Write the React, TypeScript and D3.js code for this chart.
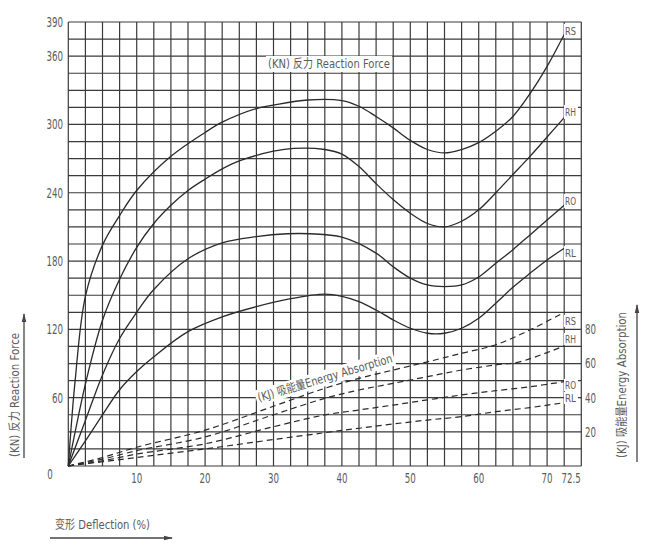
import React from "react";
import * as d3 from "d3";

// Deflection (%) vs Reaction Force (kN)
const forceRS: [number, number][] = [[0,0],[1,75],[2.5,149],[5,194],[7.5,220],[10,242],[15,272],[20,293],[22.5,302],[27.5,314],[30,317],[35,321.5],[40,321],[42.5,316],[45,307],[47.5,297],[50,286],[52.5,278],[55,275],[57.5,278],[60,284],[62.5,294],[65,307],[67.5,327],[70,351],[72.5,379]];
const forceRH: [number, number][] = [[0,0],[1,30],[2.5,72],[5,128],[7.5,164],[10,192],[12.5,213],[15,229],[17.5,242],[20,252],[22.5,261],[25,268],[30,276.5],[33,279],[37.5,278],[40,274],[42.5,263],[45,248],[47.5,234],[50,222],[52.5,213],[55,210],[57.5,215],[60,225],[62.5,240],[65,256],[67.5,272],[70,289],[72.5,306]];
const forceRO: [number, number][] = [[0,0],[2.5,40],[5,80],[7.5,112],[10,135],[12.5,155],[17.5,182],[22.5,196],[27.5,201.5],[32,204],[35.3,204],[40,201],[45,187],[47.5,175],[50,165],[52.5,159],[55,157.6],[57.5,159],[60,166],[62.5,178],[65,190],[67.5,203],[70,216],[72.5,229]];
const forceRL: [number, number][] = [[0,0],[2.5,22],[5,45],[7.5,67],[10,83],[12.5,96],[17.5,118],[22.5,131],[27.5,140],[32.5,147],[37.5,151],[40,149],[42.5,144.4],[45,137],[47.5,128.3],[50,121],[52.5,116.6],[55,116.6],[57.5,121],[60,129.8],[62.5,143],[65,157],[67.5,169.3],[70,181],[72.5,191.3]];

// Deflection (%) vs Energy Absorption (kJ)
const energyRS: [number, number][] = [[0,0],[5,5],[10,11],[20,21],[30,35],[37.5,45.5],[42.5,51.3],[47.5,56.2],[52.5,61],[57.5,66],[62.5,71],[67.5,79.7],[72.5,90]];
const energyRH: [number, number][] = [[0,0],[5,4],[10,9],[20,17],[30,30],[37.5,39.6],[42.5,44.5],[47.5,48.4],[52.5,52.3],[57.5,56.2],[62.5,59.2],[66,61],[72.5,70.3]];
const energyRO: [number, number][] = [[0,0],[5,3],[10,7],[20,13],[30,23],[37.5,29.9],[42.5,32.8],[47.5,35.7],[52.5,38.7],[57.5,41.6],[62.5,44.1],[67.5,46.4],[72.5,49.4]];
const energyRL: [number, number][] = [[0,0],[5,2.5],[10,5],[20,10],[30,15.5],[37.5,19.5],[42.5,22.1],[47.5,24.6],[52.5,26.9],[57.5,28.9],[62.5,31.8],[67.5,34.2],[72.5,37.1]];

const seriesNames = ["RS", "RH", "RO", "RL"];
const xTicks = [10, 20, 30, 40, 50, 60, 70, 72.5];
const leftTicks = [60, 120, 180, 240, 300, 360, 390];
const rightTicks = [20, 40, 60, 80];

const FONT = "'DejaVu Sans', 'Noto Sans CJK SC', sans-serif";
const TXT = "#5c5c5c";

type TProps = {
  x: number; y: number; size: number; sx?: number; rot?: number;
  anchor?: "start" | "middle" | "end"; children: React.ReactNode; len?: number;
};
function T({ x, y, size, sx = 1, rot = 0, anchor = "start", children, len }: TProps) {
  return (
    <text
      transform={`translate(${x},${y}) rotate(${rot}) scale(${sx},1)`}
      textAnchor={anchor}
      dominantBaseline="central"
      fontSize={size}
      fill={TXT}
      textLength={len}
      lengthAdjust={len ? "spacingAndGlyphs" : undefined}
    >
      {children}
    </text>
  );
}

export default function App() {
  const x = d3.scaleLinear().domain([0, 75]).range([68.3, 581.3]);
  const yF = d3.scaleLinear().domain([0, 390]).range([466, 22]);
  const yE = d3.scaleLinear().domain([0, 260]).range([466, 22]);

  const curve = d3.curveCatmullRom.alpha(0.5);
  const lineF = d3.line<[number, number]>().x(d => x(d[0])).y(d => yF(d[1])).curve(curve);
  const lineE = d3.line<[number, number]>().x(d => x(d[0])).y(d => yE(d[1])).curve(curve);

  const forces = [forceRS, forceRH, forceRO, forceRL];
  const energies = [energyRS, energyRH, energyRO, energyRL];

  const vGrid = d3.range(0, 75.001, 2.5);
  const hGrid = d3.range(0, 390.001, 15);

  const forceLabelY = [31, 112, 201, 253];
  const energyLabelY = [321, 339, 385, 398];

  return (
    <svg width={650} height={547} style={{ position: "absolute", left: 0, top: 0, background: "#fff" }} fontFamily={FONT}>
      <defs>
        <marker id="arr" viewBox="0 0 10 10" refX="9" refY="5" markerWidth="7" markerHeight="7" orient="auto">
          <path d="M0,2.5 L10,5 L0,7.5 Z" fill="#444" />
        </marker>
      </defs>
      <rect width={650} height={547} fill="#fff" />
      {/* grid */}
      <g stroke="#3a3a3a" strokeWidth={1.2}>
        {vGrid.map(v => (
          <line key={"v" + v} x1={x(v)} x2={x(v)} y1={yF(0)} y2={yF(390)} />
        ))}
        {hGrid.map(h => (
          <line key={"h" + h} x1={x(0)} x2={x(75)} y1={yF(h)} y2={yF(h)} />
        ))}
      </g>
      {/* force curves */}
      <g fill="none" stroke="#2a2a2a" strokeWidth={1.3}>
        {forces.map((f, i) => <path key={"f" + i} d={lineF(f) || ""} />)}
      </g>
      {/* energy curves */}
      <g fill="none" stroke="#2a2a2a" strokeWidth={1.2} strokeDasharray="6,4">
        {energies.map((e, i) => <path key={"e" + i} d={lineE(e) || ""} />)}
      </g>
      {/* in-plot titles */}
      <rect x={266} y={56} width={126} height={16} fill="#fff" />
      <T x={268} y={64} size={12} len={122}>(KN) 反力 Reaction Force</T>
      <g transform="translate(325,378) rotate(-16.5)">
        <rect x={-72} y={-8} width={144} height={16} fill="#fff" />
        <T x={-70} y={0} size={12} len={140}>(KJ) 吸能量Energy Absorption</T>
      </g>
      {/* series labels */}
      {seriesNames.map((n, i) => (
        <g key={"fl" + n}>
          <rect x={564} y={forceLabelY[i] - 7} width={14} height={14} fill="#fff" />
          <T x={565} y={forceLabelY[i]} size={11} len={11}>{n}</T>
        </g>
      ))}
      {seriesNames.map((n, i) => (
        <g key={"el" + n}>
          <rect x={564} y={energyLabelY[i] - 6} width={14} height={12} fill="#fff" />
          <T x={565} y={energyLabelY[i]} size={11} len={11}>{n}</T>
        </g>
      ))}
      {/* left ticks */}
      {leftTicks.map(t => (
        <T key={"lt" + t} x={63} y={yF(t)} size={14} sx={0.62} anchor="end">{t}</T>
      ))}
      <T x={50} y={474} size={14} sx={0.62} anchor="middle">0</T>
      {/* bottom ticks */}
      {xTicks.map(t => (
        <T key={"xt" + t} x={x(t) + (t === 72.5 ? 7 : 0)} y={478} size={14} sx={0.62} anchor="middle">{t}</T>
      ))}
      {/* right ticks */}
      {rightTicks.map(t => (
        <T key={"rt" + t} x={585} y={yE(t)} size={14} sx={0.62}>{t}</T>
      ))}
      {/* axis titles */}
      <T x={15} y={457} rot={-90} size={12} len={124}>(KN) 反力 Reaction Force</T>
      <line x1={24} x2={24} y1={458} y2={314} stroke="#444" strokeWidth={1.3} markerEnd="url(#arr)" />
      <T x={622} y={458} rot={-90} size={12} len={146}>(KJ) 吸能量Energy Absorption</T>
      <line x1={637} x2={637} y1={462} y2={305} stroke="#444" strokeWidth={1.3} markerEnd="url(#arr)" />
      <T x={55} y={525} size={12} len={95}>变形 Deflection (%)</T>
      <line x1={50} x2={172} y1={538} y2={538} stroke="#444" strokeWidth={1.3} markerEnd="url(#arr)" />
    </svg>
  );
}
